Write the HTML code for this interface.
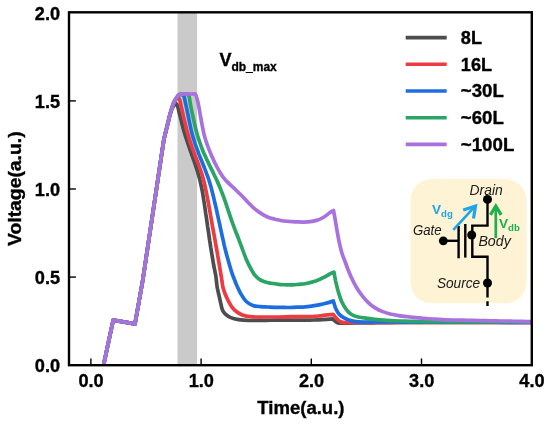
<!DOCTYPE html>
<html><head><meta charset="utf-8"><title>Voltage vs Time</title>
<style>html,body{margin:0;padding:0;background:#fff}svg{display:block}</style></head>
<body>
<svg width="550" height="426" viewBox="0 0 550 426">
<rect width="550" height="426" fill="#fff"/>
<filter id="soft" x="0" y="0" width="550" height="426" filterUnits="userSpaceOnUse"><feGaussianBlur stdDeviation="0.45"/></filter>
<g filter="url(#soft)">
<rect x="177.5" y="12.2" width="19.6" height="352.4" fill="#cacaca"/>
<clipPath id="c"><rect x="69" y="12.3" width="462.8" height="352.9"/></clipPath>
<g clip-path="url(#c)">
<path d="M102.6,369.5L103.7,364.5L113.2,320.1L135.0,323.9L142.8,280.0L163.9,139.3C164.3,137.9 165.3,133.5 166.0,130.7C166.7,127.8 167.5,124.9 168.2,122.0C168.9,119.2 169.4,116.1 170.3,113.4C171.2,110.7 172.5,107.5 173.6,106.0C174.7,104.5 175.8,103.2 176.8,104.4C177.8,105.6 178.7,110.8 179.4,113.4C180.1,116.0 180.5,117.7 181.0,119.8C181.5,122.0 181.9,123.8 182.6,126.3C183.3,128.8 184.0,131.5 185.0,134.6C185.9,137.6 187.1,141.0 188.2,144.5C189.4,148.0 190.9,152.0 192.1,155.6C193.4,159.1 194.7,162.7 195.7,165.9C196.7,169.0 197.6,171.6 198.4,174.4C199.2,177.1 199.8,179.4 200.4,182.2C201.1,185.0 201.7,188.0 202.3,191.2C202.9,194.5 203.4,198.0 204.0,201.7C204.6,205.3 205.3,210.2 205.7,213.2C206.2,216.2 206.4,217.5 206.7,219.7C207.0,221.9 207.3,224.0 207.6,226.3C208.0,228.6 208.3,231.1 208.7,233.4C209.0,235.8 209.4,238.3 209.7,240.6C210.1,242.9 210.4,245.0 210.7,247.2C211.1,249.5 211.3,250.9 211.8,253.9C212.3,256.9 213.1,261.6 213.7,265.2C214.4,268.7 215.2,272.5 215.7,275.2C216.2,277.9 216.2,279.4 216.5,281.5C216.8,283.7 216.7,284.9 217.3,287.9C217.9,290.9 219.1,295.8 219.9,299.5C220.8,303.2 221.4,307.4 222.4,309.9C223.4,312.4 224.3,313.1 225.7,314.4C227.1,315.7 228.7,316.7 230.8,317.6C233.0,318.5 235.6,319.1 238.6,319.6C241.6,320.1 245.7,320.4 248.9,320.5C252.1,320.6 254.7,320.4 257.5,320.4C260.4,320.4 263.3,320.3 266.2,320.3C269.0,320.3 271.7,320.2 274.8,320.2C277.9,320.2 281.3,320.2 284.6,320.1C287.9,320.1 291.1,320.1 294.4,320.1C297.7,320.1 300.9,320.1 304.2,320.1C307.5,320.0 311.0,320.1 314.0,320.0C317.0,319.9 318.9,319.8 322.0,319.6C325.1,319.4 330.8,319.0 332.5,318.9C332.8,319.2 333.6,319.9 334.5,320.6C335.4,321.3 336.2,322.6 338.0,323.0C339.8,323.4 342.0,323.2 345.0,323.2C348.0,323.2 352.3,323.1 356.0,323.0C359.7,323.0 363.3,322.9 367.0,322.9C370.7,322.8 374.3,322.8 378.0,322.7C381.7,322.7 385.3,322.6 389.0,322.6C392.7,322.5 396.2,322.4 400.0,322.4C403.8,322.4 407.9,322.4 411.9,322.4C415.9,322.4 419.8,322.4 423.8,322.4C427.8,322.4 431.8,322.4 435.7,322.4C439.7,322.4 443.7,322.4 447.6,322.4C451.6,322.4 455.6,322.4 459.5,322.4C463.5,322.4 467.5,322.3 471.5,322.3C475.4,322.3 479.4,322.3 483.4,322.3C487.3,322.3 491.3,322.3 495.3,322.3C499.2,322.3 503.2,322.3 507.2,322.3C511.2,322.3 515.1,322.3 519.1,322.3C523.1,322.3 529.0,322.3 531.0,322.3" fill="none" stroke="#4d4d4d" stroke-width="3.7" stroke-linejoin="round" stroke-linecap="butt"/>
<path d="M102.6,369.5L103.7,364.5L113.2,320.1L135.0,323.9L142.8,280.0L163.9,139.3C164.3,137.9 165.3,133.5 166.0,130.7C166.7,127.8 167.5,124.9 168.2,122.0C168.9,119.2 169.4,116.6 170.3,113.4C171.2,110.2 172.5,105.6 173.6,103.1C174.7,100.6 175.8,99.2 176.8,98.5C177.8,97.8 178.7,97.8 179.4,99.2C180.2,100.6 180.8,104.7 181.3,107.0C181.8,109.3 182.2,111.0 182.7,113.0C183.1,115.0 183.5,116.9 184.0,118.9C184.5,121.0 185.0,123.1 185.6,125.2C186.1,127.3 186.5,129.4 187.1,131.5C187.7,133.6 188.3,135.6 188.9,137.7C189.6,139.8 190.1,141.9 190.8,143.9C191.5,145.9 192.2,147.7 192.9,149.6C193.6,151.5 194.0,152.6 195.0,155.3C196.0,157.9 197.7,162.2 198.9,165.4C200.0,168.5 201.0,171.3 201.9,174.0C202.8,176.8 203.4,179.2 204.1,182.0C204.7,184.8 205.3,187.7 206.0,190.9C206.7,194.1 207.4,197.6 208.0,201.2C208.7,204.8 209.6,209.7 210.1,212.7C210.6,215.6 210.8,216.9 211.2,219.0C211.6,221.1 211.9,223.2 212.3,225.3C212.7,227.5 213.1,229.7 213.5,231.9C213.9,234.1 214.3,236.3 214.7,238.4C215.1,240.5 215.4,242.5 215.8,244.6C216.2,246.7 216.4,247.8 216.9,250.8C217.4,253.7 218.2,258.5 218.9,262.4C219.5,266.2 220.3,270.8 220.8,273.9C221.3,277.0 221.6,278.6 221.9,280.9C222.3,283.2 222.3,285.0 223.1,287.9C223.9,290.8 225.5,295.1 227.0,298.3C228.5,301.5 230.2,304.8 232.1,307.3C234.0,309.8 236.2,311.6 238.6,313.1C241.0,314.6 243.3,315.5 246.3,316.1C249.3,316.8 253.5,316.9 256.7,317.0C259.9,317.1 262.7,317.0 265.8,317.0C268.8,317.0 271.5,317.0 274.8,317.0C278.1,317.0 282.0,316.9 285.6,316.8C289.2,316.7 293.1,316.7 296.4,316.6C299.7,316.6 302.3,316.5 305.2,316.5C308.1,316.5 311.2,316.5 314.0,316.4C316.8,316.2 318.8,315.9 322.0,315.6C325.2,315.3 331.3,314.6 333.2,314.4C333.8,315.1 335.3,317.2 336.5,318.4C337.7,319.6 339.0,321.0 340.5,321.7C342.0,322.4 343.0,322.5 345.7,322.6C348.4,322.7 352.9,322.6 356.6,322.5C360.2,322.5 363.8,322.5 367.4,322.5C371.0,322.5 374.7,322.4 378.3,322.4C381.9,322.4 385.5,322.4 389.1,322.4C392.8,322.3 396.2,322.3 400.0,322.3C403.8,322.3 407.9,322.3 411.9,322.3C415.9,322.3 419.8,322.3 423.8,322.3C427.8,322.3 431.8,322.3 435.7,322.3C439.7,322.3 443.7,322.3 447.6,322.3C451.6,322.3 455.6,322.3 459.5,322.3C463.5,322.3 467.5,322.3 471.5,322.3C475.4,322.3 479.4,322.3 483.4,322.3C487.3,322.3 491.3,322.3 495.3,322.3C499.2,322.3 503.2,322.3 507.2,322.3C511.2,322.3 515.1,322.3 519.1,322.3C523.1,322.3 529.0,322.3 531.0,322.3" fill="none" stroke="#ee3a43" stroke-width="3.7" stroke-linejoin="round" stroke-linecap="butt"/>
<path d="M102.6,369.5L103.7,364.5L113.2,320.1L135.0,323.9L142.8,280.0L163.9,139.3C164.3,137.9 165.3,133.5 166.0,130.7C166.7,127.8 167.5,124.9 168.2,122.0C168.9,119.2 169.4,116.6 170.3,113.4C171.2,110.2 172.5,105.8 173.6,103.1C174.7,100.4 175.8,98.7 176.8,97.3C177.8,95.9 178.5,95.2 179.4,94.8C180.3,94.3 181.2,94.4 182.0,94.6C182.8,94.8 183.3,94.4 183.9,96.0C184.5,97.6 185.1,101.3 185.8,104.4C186.5,107.5 187.2,111.2 187.9,114.5C188.6,117.8 189.2,121.0 189.9,124.2C190.6,127.3 191.2,130.3 192.0,133.5C192.9,136.7 193.9,140.0 195.0,143.5C196.2,146.9 197.6,150.6 198.9,154.1C200.3,157.6 201.8,161.2 203.1,164.5C204.3,167.7 205.6,170.7 206.6,173.6C207.7,176.5 208.6,179.1 209.5,182.0C210.4,184.8 211.2,187.7 212.0,190.9C212.8,194.1 213.7,197.6 214.5,201.2C215.4,204.8 216.5,209.7 217.1,212.7C217.8,215.6 218.0,216.9 218.5,219.0C218.9,221.1 219.4,223.2 219.9,225.3C220.3,227.5 220.8,229.7 221.3,231.9C221.7,234.1 222.2,236.3 222.7,238.4C223.2,240.5 223.7,242.5 224.1,244.6C224.6,246.6 224.8,247.8 225.6,250.7C226.3,253.6 227.6,258.2 228.6,261.9C229.7,265.5 230.9,269.8 231.8,272.6C232.7,275.4 233.4,276.8 234.2,279.0C235.1,281.1 235.5,282.7 236.7,285.3C237.9,287.9 239.6,291.7 241.2,294.4C242.8,297.1 244.4,299.7 246.3,301.5C248.2,303.3 250.4,304.5 252.8,305.4C255.2,306.3 258.1,306.4 260.6,306.7C263.1,307.0 265.3,306.9 267.7,307.0C270.1,307.1 272.6,307.2 274.8,307.3C277.1,307.4 279.1,307.4 281.2,307.4C283.3,307.4 285.1,307.5 287.6,307.5C290.1,307.5 293.5,307.3 296.4,307.2C299.3,307.1 302.0,307.2 305.2,306.9C308.4,306.6 312.3,306.0 315.8,305.4C319.3,304.8 323.4,303.8 326.3,303.1C329.2,302.4 332.1,301.4 333.3,301.0C333.7,302.2 334.6,306.0 335.6,308.2C336.6,310.4 337.8,312.6 339.2,314.2C340.6,315.8 342.2,316.8 344.1,317.9C346.0,319.0 348.1,320.0 350.5,320.6C352.9,321.2 354.9,321.6 358.2,321.8C361.4,322.0 366.1,322.0 370.0,322.0C373.9,322.0 377.7,322.0 381.5,322.0C385.3,322.0 389.2,322.0 393.0,322.0C396.8,322.1 400.7,322.1 404.5,322.1C408.3,322.1 412.2,322.1 416.0,322.1C419.8,322.1 423.7,322.1 427.5,322.1C431.3,322.1 435.2,322.1 439.0,322.1C442.8,322.1 446.7,322.1 450.5,322.1C454.3,322.2 458.2,322.2 462.0,322.2C465.8,322.2 469.7,322.2 473.5,322.2C477.3,322.2 481.2,322.2 485.0,322.2C488.8,322.2 492.7,322.2 496.5,322.2C500.3,322.2 504.2,322.2 508.0,322.3C511.8,322.3 515.7,322.3 519.5,322.3C523.3,322.3 529.1,322.3 531.0,322.3" fill="none" stroke="#1f6ee0" stroke-width="3.7" stroke-linejoin="round" stroke-linecap="butt"/>
<path d="M102.6,369.5L103.7,364.5L113.2,320.1L135.0,323.9L142.8,280.0L163.9,139.3C164.3,137.9 165.3,133.5 166.0,130.7C166.7,127.8 167.5,124.9 168.2,122.0C168.9,119.2 169.4,116.6 170.3,113.4C171.2,110.2 172.5,105.8 173.6,103.1C174.7,100.4 175.8,98.7 176.8,97.3C177.8,95.9 177.9,95.1 179.4,94.6C180.9,94.1 184.4,94.0 186.0,94.2C187.6,94.4 188.3,94.3 189.0,96.0C189.7,97.7 189.8,101.3 190.4,104.4C191.0,107.5 191.8,111.2 192.5,114.5C193.2,117.8 193.9,121.0 194.6,124.2C195.3,127.3 196.1,130.3 196.9,133.4C197.8,136.6 198.8,139.8 200.0,143.1C201.1,146.4 202.5,149.9 203.9,153.3C205.4,156.6 207.0,160.1 208.6,163.4C210.1,166.6 211.7,169.7 213.2,172.7C214.6,175.8 216.0,178.6 217.4,181.6C218.8,184.7 220.1,187.8 221.4,191.2C222.8,194.5 224.1,198.1 225.3,201.7C226.5,205.2 227.7,209.0 228.9,212.4C230.0,215.8 231.1,219.2 232.2,222.2C233.3,225.3 234.4,228.1 235.5,231.0C236.6,233.8 237.7,236.5 238.8,239.4C239.9,242.4 241.0,245.4 242.2,248.5C243.3,251.6 244.5,254.9 245.7,257.9C247.0,260.9 248.3,263.9 249.8,266.7C251.2,269.5 252.6,272.3 254.4,274.6C256.2,276.9 258.3,278.8 260.6,280.2C262.9,281.6 266.0,282.2 268.3,282.8C270.6,283.4 272.4,283.4 274.5,283.7C276.5,284.0 278.6,284.4 280.6,284.6C282.7,284.8 284.7,284.7 286.8,284.8C288.8,284.8 290.8,285.0 292.9,284.9C294.9,284.8 297.0,284.5 299.0,284.3C301.1,284.1 302.4,284.2 305.2,283.7C308.0,283.2 312.6,282.2 315.8,281.1C319.0,280.0 322.1,278.3 324.6,277.0C327.1,275.7 329.4,274.1 331.0,273.3C332.6,272.5 333.5,272.3 334.0,272.1C334.3,273.6 334.9,277.7 335.6,281.1C336.4,284.5 337.4,288.9 338.5,292.4C339.6,295.9 340.7,299.5 342.0,302.3C343.3,305.1 344.7,307.3 346.2,309.3C347.7,311.3 349.1,312.9 351.1,314.2C353.1,315.5 355.1,316.3 358.2,317.0C361.2,317.7 365.8,318.1 369.4,318.6C373.0,319.1 376.6,319.5 380.0,319.8C383.4,320.1 386.7,320.4 390.0,320.6C393.3,320.8 396.7,320.9 400.0,321.0C403.3,321.1 406.7,321.3 410.0,321.4C413.3,321.5 416.7,321.5 420.0,321.5C423.3,321.5 426.7,321.6 430.0,321.6C433.3,321.6 436.7,321.7 440.0,321.7C443.3,321.7 446.4,321.8 450.0,321.8C453.6,321.8 457.7,321.8 461.6,321.8C465.4,321.8 469.3,321.8 473.1,321.9C477.0,321.9 480.9,321.9 484.7,321.9C488.6,321.9 492.4,321.9 496.3,321.9C500.1,321.9 504.0,321.9 507.9,321.9C511.7,322.0 515.6,322.0 519.4,322.0C523.3,322.0 529.1,322.0 531.0,322.0" fill="none" stroke="#2ca566" stroke-width="3.7" stroke-linejoin="round" stroke-linecap="butt"/>
<path d="M102.6,369.5L103.7,364.5L113.2,320.1L135.0,323.9L142.8,280.0L163.9,139.3C164.2,138.2 165.0,135.0 165.5,132.8C166.0,130.6 166.6,128.5 167.1,126.3C167.6,124.1 168.2,122.0 168.7,119.8C169.2,117.7 169.5,116.2 170.3,113.4C171.1,110.6 172.5,105.8 173.6,103.1C174.7,100.4 175.8,98.8 176.8,97.3C177.8,95.8 178.4,95.0 179.4,94.4C180.4,93.9 180.9,94.1 183.0,94.0C185.1,93.9 189.9,93.9 192.0,94.0C194.1,94.1 194.5,93.1 195.5,94.4C196.5,95.7 197.1,99.1 197.8,101.8C198.5,104.5 199.1,108.3 199.6,110.8C200.1,113.3 200.3,115.0 200.7,117.1C201.1,119.2 201.2,120.4 201.8,123.3C202.4,126.3 203.2,131.0 204.1,134.6C205.0,138.2 206.0,141.5 207.3,145.0C208.5,148.5 210.1,152.3 211.7,155.9C213.3,159.5 215.1,163.3 216.7,166.5C218.4,169.7 219.9,172.4 221.6,174.9C223.2,177.4 224.8,179.2 226.8,181.4C228.8,183.5 231.0,185.4 233.4,187.7C235.7,189.9 238.4,192.4 240.8,194.8C243.2,197.2 245.6,199.9 247.9,202.2C250.2,204.5 252.3,206.8 254.5,208.6C256.7,210.5 258.9,212.1 261.3,213.6C263.6,215.0 266.3,216.6 268.6,217.5C270.9,218.4 273.0,218.6 275.1,219.2C277.3,219.7 279.3,220.4 281.7,220.8C284.1,221.2 286.8,221.2 289.4,221.4C291.9,221.5 293.9,221.8 297.0,221.9C300.1,222.0 304.6,222.2 307.9,221.9C311.2,221.7 314.1,221.1 316.6,220.4C319.2,219.7 321.0,218.8 323.2,217.5C325.4,216.2 328.0,213.9 329.7,212.7C331.4,211.5 332.9,210.9 333.5,210.5C333.8,211.9 334.5,215.8 335.1,219.1C335.7,222.4 336.3,226.7 337.0,230.4C337.7,234.2 338.3,237.8 339.1,241.6C339.9,245.3 340.9,249.7 341.9,252.9C342.8,256.1 343.9,258.4 344.8,261.0C345.8,263.6 346.6,265.9 347.6,268.5C348.7,271.1 349.7,273.8 351.1,276.9C352.5,279.9 354.3,283.8 356.1,286.8C357.9,289.9 359.7,292.6 361.7,295.2C363.7,297.8 365.8,300.2 368.0,302.3C370.2,304.4 372.8,306.4 375.1,307.9C377.5,309.4 379.6,310.4 382.1,311.4C384.6,312.4 387.0,313.3 390.0,314.0C393.0,314.7 396.7,315.3 400.0,315.8C403.3,316.3 407.0,316.7 410.0,317.0C413.0,317.3 415.3,317.5 418.0,317.8C420.7,318.1 423.1,318.4 426.0,318.6C428.9,318.8 432.3,319.0 435.5,319.2C438.7,319.4 441.5,319.7 445.0,319.8C448.5,319.9 452.8,320.0 456.7,320.1C460.6,320.2 464.4,320.2 468.3,320.3C472.2,320.4 476.4,320.5 480.0,320.6C483.6,320.7 486.8,320.7 490.2,320.8C493.6,320.9 497.0,320.9 500.4,321.0C503.8,321.1 507.2,321.1 510.6,321.2C514.0,321.3 517.4,321.3 520.8,321.4C524.2,321.5 529.3,321.6 531.0,321.6" fill="none" stroke="#a971de" stroke-width="3.7" stroke-linejoin="round" stroke-linecap="butt"/>
</g>

<rect x="410.5" y="179.1" width="116" height="124.2" rx="21" ry="21" fill="#fef3d5"/>
<g stroke="#000" stroke-width="2.4" fill="none" stroke-linecap="butt">
<path d="M487.5,199.4V225.6H472.3V256.8H487.5V283"/>
<path d="M487.5,283V297.4M487.5,301.2V305.9"/>
<path d="M458.6,226V258.3"/>
<path d="M465.3,224V257.6"/>
<path d="M443.3,240.8H458.6"/>
</g>
<circle cx="487.5" cy="199.4" r="4.5"/><circle cx="471.7" cy="235" r="4.5"/><circle cx="443.3" cy="240.8" r="4.4"/><circle cx="487.5" cy="283" r="4.5"/>
<g stroke="#1fa5ea" fill="none" stroke-linecap="butt" stroke-linejoin="miter">
<path d="M453.3,229.9L474.5,206.8" stroke-width="2.6"/><path d="M463.2,210L475.5,206L473.5,218.6" stroke-width="3.2"/>
</g>
<g stroke="#1ab050" fill="none" stroke-linejoin="miter">
<path d="M495.8,238.1V208" stroke-width="2.7"/><path d="M490.4,214.8L495.8,206L501.2,214.8" stroke-width="3.2"/>
</g>
<text x="469.6" y="195.2" font-size="14" fill="#1a1a1a" font-family="Liberation Sans, Arial, sans-serif" font-style="italic" textLength="33.2" lengthAdjust="spacingAndGlyphs">Drain</text>
<text x="412.9" y="234.6" font-size="14" fill="#1a1a1a" font-family="Liberation Sans, Arial, sans-serif" font-style="italic" textLength="28.6" lengthAdjust="spacingAndGlyphs">Gate</text>
<text x="478.4" y="245.5" font-size="14" fill="#1a1a1a" font-family="Liberation Sans, Arial, sans-serif" font-style="italic" textLength="32.4" lengthAdjust="spacingAndGlyphs">Body</text>
<text x="436.9" y="288" font-size="14" fill="#1a1a1a" font-family="Liberation Sans, Arial, sans-serif" font-style="italic" textLength="43.3" lengthAdjust="spacingAndGlyphs">Source</text>
<text x="432" y="213.9" font-size="13.6" fill="#1fa5ea" font-family="Liberation Sans, Arial, sans-serif" font-weight="bold">V<tspan font-size="9.6" dy="3">dg</tspan></text>
<text x="499" y="227.8" font-size="13.6" fill="#1ab050" font-family="Liberation Sans, Arial, sans-serif" font-weight="bold">V<tspan font-size="9.6" dy="3">db</tspan></text>

<rect x="69.0" y="12.3" width="462.8" height="352.9" fill="none" stroke="#000" stroke-width="2.4"/>
<line x1="90.9" y1="365.2" x2="90.9" y2="358.4" stroke="#000" stroke-width="1.4"/><line x1="201.1" y1="365.2" x2="201.1" y2="358.4" stroke="#000" stroke-width="1.4"/><line x1="311.3" y1="365.2" x2="311.3" y2="358.4" stroke="#000" stroke-width="1.4"/><line x1="421.5" y1="365.2" x2="421.5" y2="358.4" stroke="#000" stroke-width="1.4"/><line x1="69.0" y1="277.1" x2="75.9" y2="277.1" stroke="#000" stroke-width="1.4"/><line x1="69.0" y1="189.0" x2="75.9" y2="189.0" stroke="#000" stroke-width="1.4"/><line x1="69.0" y1="100.9" x2="75.9" y2="100.9" stroke="#000" stroke-width="1.4"/>
<text x="91.10000000000001" y="387.4" font-size="17.5" text-anchor="middle" font-family="Liberation Sans, Arial, sans-serif" font-weight="bold" stroke="#000" stroke-width="0.35" textLength="25.2" lengthAdjust="spacingAndGlyphs" >0.0</text><text x="201.29999999999998" y="387.4" font-size="17.5" text-anchor="middle" font-family="Liberation Sans, Arial, sans-serif" font-weight="bold" stroke="#000" stroke-width="0.35" textLength="25.2" lengthAdjust="spacingAndGlyphs" >1.0</text><text x="311.5" y="387.4" font-size="17.5" text-anchor="middle" font-family="Liberation Sans, Arial, sans-serif" font-weight="bold" stroke="#000" stroke-width="0.35" textLength="25.2" lengthAdjust="spacingAndGlyphs" >2.0</text><text x="421.7" y="387.4" font-size="17.5" text-anchor="middle" font-family="Liberation Sans, Arial, sans-serif" font-weight="bold" stroke="#000" stroke-width="0.35" textLength="25.2" lengthAdjust="spacingAndGlyphs" >3.0</text><text x="531.9000000000001" y="387.4" font-size="17.5" text-anchor="middle" font-family="Liberation Sans, Arial, sans-serif" font-weight="bold" stroke="#000" stroke-width="0.35" textLength="25.2" lengthAdjust="spacingAndGlyphs" >4.0</text><text x="60.0" y="371.8" font-size="17.5" text-anchor="end" font-family="Liberation Sans, Arial, sans-serif" font-weight="bold" stroke="#000" stroke-width="0.35" textLength="25.2" lengthAdjust="spacingAndGlyphs" >0.0</text><text x="60.0" y="283.5" font-size="17.5" text-anchor="end" font-family="Liberation Sans, Arial, sans-serif" font-weight="bold" stroke="#000" stroke-width="0.35" textLength="25.2" lengthAdjust="spacingAndGlyphs" >0.5</text><text x="60.0" y="195.9" font-size="17.5" text-anchor="end" font-family="Liberation Sans, Arial, sans-serif" font-weight="bold" stroke="#000" stroke-width="0.35" textLength="25.2" lengthAdjust="spacingAndGlyphs" >1.0</text><text x="60.0" y="107.5" font-size="17.5" text-anchor="end" font-family="Liberation Sans, Arial, sans-serif" font-weight="bold" stroke="#000" stroke-width="0.35" textLength="25.2" lengthAdjust="spacingAndGlyphs" >1.5</text><text x="60.0" y="19.6" font-size="17.5" text-anchor="end" font-family="Liberation Sans, Arial, sans-serif" font-weight="bold" stroke="#000" stroke-width="0.35" textLength="25.2" lengthAdjust="spacingAndGlyphs" >2.0</text>
<line x1="405.7" y1="37.6" x2="446.7" y2="37.6" stroke="#4d4d4d" stroke-width="3.6"/><text x="460.8" y="43.8" font-size="17.5" text-anchor="start" font-family="Liberation Sans, Arial, sans-serif" font-weight="bold" stroke="#000" stroke-width="0.35" textLength="21.2" lengthAdjust="spacingAndGlyphs" >8L</text><line x1="405.7" y1="64.3" x2="446.7" y2="64.3" stroke="#ee3a43" stroke-width="3.6"/><text x="460.8" y="70.5" font-size="17.5" text-anchor="start" font-family="Liberation Sans, Arial, sans-serif" font-weight="bold" stroke="#000" stroke-width="0.35" textLength="31.3" lengthAdjust="spacingAndGlyphs" >16L</text><line x1="405.7" y1="91.0" x2="446.7" y2="91.0" stroke="#1f6ee0" stroke-width="3.6"/><text x="460.8" y="97.2" font-size="17.5" text-anchor="start" font-family="Liberation Sans, Arial, sans-serif" font-weight="bold" stroke="#000" stroke-width="0.35" textLength="43" lengthAdjust="spacingAndGlyphs" >~30L</text><line x1="405.7" y1="117.7" x2="446.7" y2="117.7" stroke="#2ca566" stroke-width="3.6"/><text x="460.8" y="123.9" font-size="17.5" text-anchor="start" font-family="Liberation Sans, Arial, sans-serif" font-weight="bold" stroke="#000" stroke-width="0.35" textLength="43" lengthAdjust="spacingAndGlyphs" >~60L</text><line x1="405.7" y1="144.4" x2="446.7" y2="144.4" stroke="#a971de" stroke-width="3.6"/><text x="460.8" y="150.6" font-size="17.5" text-anchor="start" font-family="Liberation Sans, Arial, sans-serif" font-weight="bold" stroke="#000" stroke-width="0.35" textLength="53.5" lengthAdjust="spacingAndGlyphs" >~100L</text>
<text x="219.4" y="66.4" font-size="18" font-family="Liberation Sans, Arial, sans-serif" font-weight="bold" stroke="#000" stroke-width="0.35">V<tspan font-size="12" dy="4.2">db_max</tspan></text>
<text x="257.3" y="413.8" font-size="18" text-anchor="start" font-family="Liberation Sans, Arial, sans-serif" font-weight="bold" stroke="#000" stroke-width="0.35" textLength="87.2" lengthAdjust="spacingAndGlyphs" >Time(a.u.)</text>
<text transform="translate(21,246) rotate(-90)" font-size="18" font-family="Liberation Sans, Arial, sans-serif" font-weight="bold" stroke="#000" stroke-width="0.35" textLength="114.6" lengthAdjust="spacingAndGlyphs">Voltage(a.u.)</text>
</g>
</svg>
</body></html>
